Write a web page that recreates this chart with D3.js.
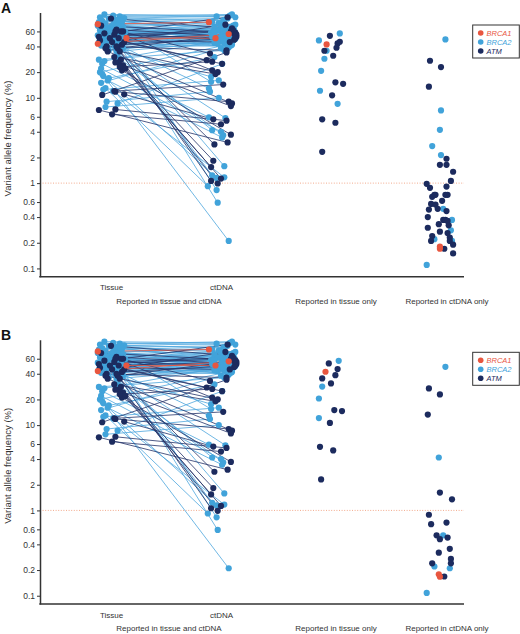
<!DOCTYPE html>
<html><head><meta charset="utf-8">
<script src="https://cdn.jsdelivr.net/npm/d3@7"></script>
<style>body{margin:0;background:#fff}svg{display:block}text{font-family:"Liberation Sans",Arial,sans-serif}</style>
</head><body><svg id="c" width="520" height="634"></svg>
<script>
// ---------- DATA ----------
const genes = ["BRCA1", "BRCA2", "ATM"];
const geneColors = ["#e8563f", "#41a3da", "#1c2b5e"];
const yTicks = [0.1, 0.2, 0.4, 0.6, 1, 2, 4, 6, 10, 20, 40, 60];
const pairCategories = ["Tissue", "ctDNA"];
const groupLabels = ["Reported in tissue and ctDNA", "Reported in tissue only", "Reported in ctDNA only"];
const yTitle = "Variant allele frequency (%)";

// Paired variants (reported in tissue and ctDNA) - same in both panels
const pairTissue = [95,92,90,88,86,85,82,80,78,77,75,74,72,70,69,68,66,65,64,63,62,61,60,59,58,57,56,55,54,53,52,51,50,49,48,47,46,45,44,43,42,41,40,39,38,52,58,66,72,80,48,44,36,35,62,
  85,70,63,60,57,55,50,47,45,42,40,38,52,
  73,50,43,
  25,11,40,6.4,45,22,30,21,16,7.2,35,24,50,26,55,18,22,12,40,28,13,45,60,19,11.8,35,26,60,10.8,8.6,50,45,23,60,38,30,42,12,70,48,9,7.8,7.3,20,27,15,17,28,12.5];
const pairCtdna = [92,88,95,80,90,70,85,75,62,82,68,55,78,60,72,50,65,58,48,70,52,63,56,45,60,54,66,50,47,58,44,53,49,62,46,52,42,55,40,48,51,44,57,41,46,40,43,47,52,58,68,61,50,44,39,
  65,58,52,88,48,62,55,45,72,50,36,56,60,
  77,50,56,
  5.9,5.6,5.8,4.9,4.17,4.0,3.65,3.7,3.43,3.0,2.84,1.83,1.58,1.54,1.23,1.15,1.13,1.17,1.06,0.99,0.92,0.83,0.59,0.21,9.0,8.6,8.0,33,34,25,27.6,25,26.5,21,20,19,17.6,14.3,15.4,12.9,11.8,10,5.4,42,48,38,30,36,16];
const pairGene = [
  ...Array(55).fill("BRCA2"),
  ...Array(13).fill("ATM"),
  "BRCA1","BRCA1","BRCA1",
  "BRCA2","ATM","BRCA2","ATM","BRCA2","BRCA2","BRCA2","ATM","BRCA2","ATM","ATM","ATM","BRCA2","ATM","BRCA2","BRCA2","ATM","BRCA2","ATM","ATM","BRCA2","BRCA2","BRCA2","BRCA2",
  "ATM","ATM","ATM","ATM","ATM","BRCA2","ATM","ATM","ATM","ATM","ATM","ATM","BRCA2","ATM","BRCA2","BRCA2","BRCA2","BRCA2","ATM","BRCA2","BRCA2","BRCA2","BRCA2","BRCA2","BRCA2"];
const pairJitterTissue = [-0.06,0.02,0.08,-0.10,0.12,-0.02,0.05,-0.08,0.10,-0.11,0.03,-0.05,0.07,-0.12,0.00,0.11,-0.07,0.04,-0.03,0.09,-0.10,0.06,-0.01,0.13,-0.09,0.02,-0.06,0.08,-0.12,0.05,-0.04,0.10,-0.08,0.01,0.12,-0.02,0.07,-0.11,0.03,-0.05,0.09,-0.09,0.04,-0.03,0.11,-0.07,0.06,-0.10,0.02,0.09,-0.06,0.08,-0.02,0.05,-0.04,
  0.00,-0.09,0.05,0.11,-0.06,0.03,0.07,-0.10,0.01,0.10,-0.04,0.06,-0.11,
  -0.12,0.14,-0.12,
  -0.08,0.12,0.04,0.01,-0.06,-0.09,0.06,0.10,-0.03,-0.11,0.08,0.11,0.03,0.07,-0.04,-0.07,0.13,0.02,0.05,0.09,-0.05,0.10,0.00,-0.08,0.04,-0.03,0.04,0.09,-0.08,0.06,-0.01,0.12,0.08,0.04,-0.05,0.03,-0.08,0.03,0.06,-0.03,-0.04,-0.05,0.04,-0.10,-0.06,-0.09,-0.02,-0.11,-0.07];
const pairJitterCtdna = [0.08,0.13,0.10,0.02,-0.04,0.11,0.06,-0.02,0.12,0.03,-0.06,0.09,-0.08,0.05,0.13,-0.03,0.07,-0.09,0.10,0.00,0.04,-0.05,0.12,0.06,-0.07,0.02,0.09,-0.01,0.11,0.04,-0.06,0.08,0.13,-0.02,0.05,-0.08,0.10,0.01,0.07,-0.04,0.12,0.03,-0.07,0.09,0.00,0.06,-0.03,0.11,0.04,-0.06,0.08,0.02,0.10,-0.05,0.07,
  0.10,0.13,0.14,0.06,0.12,0.11,0.14,0.08,0.04,0.13,0.05,0.12,0.09,
  -0.11,-0.05,0.07,
  -0.11,-0.07,0.04,0.00,-0.08,0.00,0.02,0.09,0.01,0.06,-0.06,-0.07,0.03,-0.09,-0.08,-0.04,0.00,0.03,-0.09,-0.03,-0.12,-0.04,-0.03,0.07,0.07,0.10,0.09,-0.10,0.05,0.01,-0.13,0.01,-0.08,-0.08,-0.03,-0.05,-0.09,0.02,-0.09,-0.11,-0.10,-0.02,0.05,0.06,0.02,0.00,-0.06,0.03,-0.02];

// Panel A: single-source variants
const tissueOnlyA = [53.3,56.9,47.1,42.3,43.4,45.4,38.6,35.6,35.6,31.1,28.7,20.7,15.2,14.6,12.1,10.7,8.5,5.6,5.1,2.33];
const tissueOnlyAGene = ["ATM","BRCA2","BRCA2","BRCA1","ATM","ATM","ATM","ATM","BRCA2","ATM","BRCA2","BRCA2","ATM","ATM","BRCA2","ATM","BRCA2","ATM","ATM","ATM"];
const tissueOnlyAJitter = [-0.01,0.08,-0.11,-0.04,0.06,0.08,0.05,-0.06,-0.04,0.02,-0.06,-0.09,0.04,0.11,-0.10,0.01,0.06,-0.08,0.04,-0.08];
const ctdnaOnlyA = [48.4,27.2,22.9,13.5,7.12,4.22,2.72,2.13,1.93,1.64,1.64,1.36,1.06,0.98,0.88,0.91,0.73,0.69,0.73,0.73,0.73,0.62,0.57,0.56,0.50,0.49,0.50,0.47,0.40,0.33,0.37,0.37,0.36,0.37,0.30,0.32,0.28,0.27,0.26,0.23,0.24,0.22,0.21,0.21,0.21,0.18,0.17,0.17,0.19,0.15,0.11];
const ctdnaOnlyAGene = ["BRCA2","ATM","ATM","ATM","BRCA2","BRCA2","BRCA2","BRCA2","ATM","ATM","ATM","ATM","ATM","ATM","ATM","ATM","ATM","ATM","ATM","ATM","ATM","ATM","ATM","ATM","ATM","ATM","BRCA2","ATM","ATM","ATM","ATM","ATM","ATM","BRCA2","ATM","ATM","BRCA2","ATM","ATM","ATM","ATM","BRCA2","ATM","ATM","BRCA2","BRCA1","BRCA1","ATM","ATM","ATM","BRCA2"];
const ctdnaOnlyAJitter = [0.04,-0.10,0.00,-0.11,0.00,-0.01,-0.08,0.00,0.05,-0.01,0.05,0.11,0.09,-0.13,-0.10,0.05,-0.06,-0.08,-0.05,0.04,0.06,0.01,-0.09,-0.05,-0.03,-0.11,0.02,0.05,-0.12,-0.02,0.02,0.04,0.06,0.10,-0.12,0.07,0.09,-0.01,0.06,0.08,-0.08,-0.06,-0.09,0.08,0.10,-0.01,-0.01,0.03,0.11,0.11,-0.13];

// Panel B: single-source variants
const tissueOnlyB = [52.9,56.7,42.2,45.4,35.3,38.5,30.8,28.3,20.5,15.0,14.6,12.1,10.6,5.56,5.05,2.31];
const tissueOnlyBGene = ["ATM","BRCA2","BRCA1","ATM","ATM","ATM","ATM","BRCA2","BRCA2","ATM","ATM","BRCA2","ATM","ATM","ATM","ATM"];
const tissueOnlyBJitter = [-0.02,0.07,-0.05,0.06,-0.08,0.04,0.00,-0.08,-0.11,0.03,0.10,-0.11,-0.01,-0.10,0.02,-0.09];
const ctdnaOnlyB = [48.2,26.9,22.9,13.3,4.17,1.62,1.35,0.89,0.69,0.72,0.51,0.51,0.46,0.48,0.355,0.32,0.27,0.24,0.24,0.22,0.21,0.178,0.167,0.168,0.108];
const ctdnaOnlyBGene = ["BRCA2","ATM","ATM","ATM","BRCA2","ATM","ATM","ATM","ATM","ATM","ATM","BRCA2","ATM","ATM","ATM","ATM","ATM","ATM","ATM","BRCA2","BRCA2","BRCA1","BRCA1","ATM","BRCA2"];
const ctdnaOnlyBJitter = [0.04,-0.11,-0.01,-0.12,-0.02,-0.01,0.10,-0.11,-0.09,0.05,-0.04,0.02,-0.01,0.06,0.08,-0.02,0.09,0.09,-0.08,-0.06,0.08,-0.02,-0.01,0.03,-0.13];

// ---------- DRAW ----------
const svg = d3.select("#c");
const color = d3.scaleOrdinal(genes, geneColors);
const lineColor = d3.scaleOrdinal(genes, ["#e8563f", "#4fa7de", "#26356a"]);
const x = d3.scaleLinear().domain([1, 4]).range([111, 441]);
const drawOrder = g => ({ BRCA2: 0, ATM: 1, BRCA1: 2 })[g];
const R = 3.1;

const pairs = pairTissue.map((t, i) => ({ t, c: pairCtdna[i], gene: pairGene[i], jt: pairJitterTissue[i], jc: pairJitterCtdna[i] }));

function panel(off, letter, toV, toG, toJ, coV, coG, coJ) {
  const y = d3.scaleLog().domain([0.08, 100]).range([276.7 + off, 12.5 + off]);
  const g = svg.append("g");

  g.append("line").attr("x1", 40).attr("x2", 464).attr("y1", y(1)).attr("y2", y(1))
    .attr("stroke", "#f0a080").attr("stroke-width", 0.9).attr("stroke-dasharray", "1,1.6");

  // connecting lines
  g.append("g").selectAll("line").data(pairs.slice().sort((a, b) => drawOrder(a.gene) - drawOrder(b.gene)))
    .join("line")
    .attr("x1", d => x(1 + d.jt)).attr("y1", d => y(d.t))
    .attr("x2", d => x(2 + d.jc)).attr("y2", d => y(d.c))
    .attr("stroke", d => lineColor(d.gene)).attr("stroke-width", 0.9).attr("stroke-opacity", 0.9);

  // points
  const pts = [];
  pairs.forEach(d => { pts.push({ pos: 1 + d.jt, v: d.t, gene: d.gene }); pts.push({ pos: 2 + d.jc, v: d.c, gene: d.gene }); });
  toV.forEach((v, i) => pts.push({ pos: 3 + toJ[i], v, gene: toG[i] }));
  coV.forEach((v, i) => pts.push({ pos: 4 + coJ[i], v, gene: coG[i] }));
  pts.sort((a, b) => drawOrder(a.gene) - drawOrder(b.gene));
  g.append("g").selectAll("circle").data(pts).join("circle")
    .attr("cx", d => x(d.pos)).attr("cy", d => y(d.v)).attr("r", R)
    .attr("fill", d => color(d.gene));

  // y axis
  const ya = g.append("g").attr("transform", "translate(40,0)")
    .call(d3.axisLeft(y).tickValues(yTicks).tickFormat(d3.format("~g")).tickSize(3).tickSizeOuter(0).tickPadding(2));
  ya.select(".domain").attr("stroke", "#333").attr("stroke-width", 1.5);
  ya.selectAll(".tick line").attr("stroke", "#333");
  ya.selectAll(".tick text").attr("font-size", "8.5px").attr("fill", "#333").attr("font-family", "Liberation Sans, Arial, sans-serif");

  // x axis
  g.append("line").attr("x1", 39.3).attr("x2", 464).attr("y1", y.range()[0]).attr("y2", y.range()[0])
    .attr("stroke", "#333").attr("stroke-width", 1.5);
  const xa = g.append("g").attr("transform", `translate(0,${y.range()[0]})`)
    .call(d3.axisBottom(x).tickValues([1, 2]).tickFormat((d, i) => pairCategories[i]).tickSize(0).tickPadding(8));
  xa.select(".domain").remove();
  xa.selectAll(".tick text").attr("font-size", "8px").attr("fill", "#333").attr("font-family", "Liberation Sans, Arial, sans-serif");

  const gl = [(x(1) + x(2)) / 2 + 3, x(3) + 5, x(4) + 6];
  g.selectAll("text.grp").data(groupLabels).join("text").attr("class", "grp")
    .attr("x", (d, i) => gl[i]).attr("y", 303.5 + off).attr("text-anchor", "middle")
    .attr("font-size", "8px").attr("fill", "#333").text(d => d);

  // y title
  g.append("text").attr("transform", `translate(11,${138.5 + off}) rotate(-90)`)
    .attr("text-anchor", "middle").attr("font-size", "9.5px").attr("fill", "#333").text(yTitle);

  // panel letter
  g.append("text").attr("x", 1).attr("y", 13 + off).attr("font-size", "14px").attr("font-weight", "bold")
    .attr("fill", "#111").text(letter);

  // legend
  const lg = g.append("g");
  lg.append("rect").attr("x", 472.7).attr("y", 25 + off).attr("width", 46.6).attr("height", 33)
    .attr("fill", "#fff").attr("stroke", "#333").attr("stroke-width", 1);
  genes.forEach((gn, i) => {
    const yy = 33 + off + i * 9;
    lg.append("circle").attr("cx", 480.7).attr("cy", yy).attr("r", 2.8).attr("fill", color(gn));
    lg.append("text").attr("x", 486.5).attr("y", yy + 2.7).attr("font-size", "7.5px").attr("font-style", "italic")
      .attr("fill", color(gn)).text(gn);
  });
}

panel(0, "A", tissueOnlyA, tissueOnlyAGene, tissueOnlyAJitter, ctdnaOnlyA, ctdnaOnlyAGene, ctdnaOnlyAJitter);
panel(327.3, "B", tissueOnlyB, tissueOnlyBGene, tissueOnlyBJitter, ctdnaOnlyB, ctdnaOnlyBGene, ctdnaOnlyBJitter);
</script></body></html>
